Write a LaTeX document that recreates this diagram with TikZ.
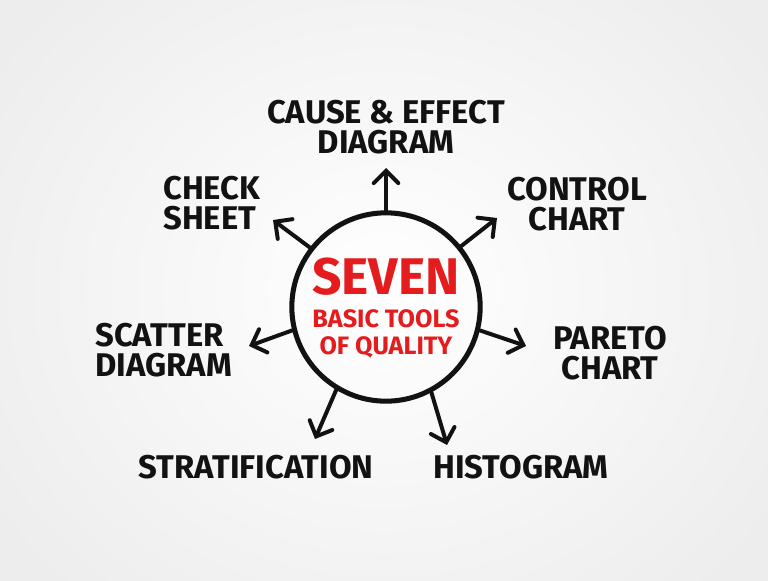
\documentclass[tikz,border=0pt]{standalone}
\usepackage{fontspec}
\setmainfont{Fira Sans}
\usetikzlibrary{arrows.meta}
\definecolor{markerred}{RGB}{228,28,30}
\definecolor{ink}{RGB}{18,18,18}
\begin{document}
\begin{tikzpicture}[x=0.03cm,y=-0.03cm,
  tool/.style={text=ink, font=\bfseries\fontsize{28}{25.5}\selectfont, align=center, inner sep=0pt},
  spoke/.style={draw=ink, line width=3.4pt, line cap=round, -{Straight Barb[length=10.5pt,width=21pt,line cap=round]}}]
\useasboundingbox (0,0) rectangle (768,580);
\shade[inner color=white, outer color=black!7] (-80,-120) rectangle (848,700);

% hub
\node[circle, draw=ink, line width=4.3pt, minimum size=5.65cm, inner sep=0pt] (seven) at (386,307) {};
\node[text=markerred, font=\bfseries\fontsize{44}{44}\selectfont, inner sep=0pt] (title) at (386,277) {SEVEN};
\node[text=markerred, font=\bfseries\fontsize{21.5}{22.5}\selectfont, align=center, inner sep=0pt] (subtitle) at (386,334) {BASIC TOOLS\\OF QUALITY};

% tools
\node[tool] (cause) at (386,127) {CAUSE \& EFFECT\\DIAGRAM};
\node[tool, anchor=west, align=left] (check) at (163,203) {CHECK\\SHEET};
\node[tool] (control) at (577,204) {CONTROL\\CHART};
\node[tool, anchor=west, align=left] (scatter) at (95,350) {SCATTER\\DIAGRAM};
\node[tool] (pareto) at (610,353) {PARETO\\CHART};
\node[tool] (strat) at (256,467) {STRATIFICATION};
\node[tool] (histo) at (521,467) {HISTOGRAM};

% arrow tips
\coordinate (tcause) at (386,168);
\coordinate (tcheck) at (273,220);
\coordinate (tcontrol) at (497,218);
\coordinate (tscatter) at (249,346);
\coordinate (tpareto) at (526,346);
\coordinate (tstrat) at (315,439);
\coordinate (thisto) at (447,445);

\draw[spoke] (seven.90) -- (tcause);
\draw[spoke] (seven.142) -- (tcheck);
\draw[spoke] (seven.39) -- (tcontrol);
\draw[spoke] (seven.194) -- (tscatter);
\draw[spoke] (seven.346) -- (tpareto);
\draw[spoke] (seven.239) -- (tstrat);
\draw[spoke] (seven.298) -- (thisto);
\end{tikzpicture}
\end{document}
